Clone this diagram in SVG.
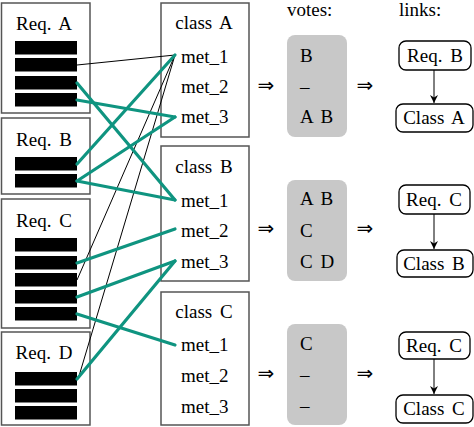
<svg xmlns="http://www.w3.org/2000/svg" width="474" height="427" viewBox="0 0 474 427" font-family="'Liberation Serif', 'Times New Roman', serif">
<style>
text{font-family:'Liberation Serif','Times New Roman',serif;font-size:19px;fill:#000;word-spacing:3px}
.box{fill:#fff;stroke:#555;stroke-width:1.5}
.bar{fill:#000}
.vote{fill:#c8c8c8;stroke:none}
.lnk{fill:#fff;stroke:#000;stroke-width:1.3}
.thin{stroke:#000;stroke-width:1;fill:none}
.teal{stroke:#0f9480;stroke-width:3.2;fill:none;stroke-linecap:round}
text.arr{font-family:'DejaVu Sans',sans-serif;font-size:20px}
.mid{text-anchor:middle}
</style>
<defs>
<marker id="ah" markerWidth="10" markerHeight="10" refX="8" refY="5" orient="auto" markerUnits="userSpaceOnUse">
<path d="M0,1 L8,5 L0,9 L2.5,5 Z" fill="#000"/>
</marker>
</defs>
<g id="reqA">
<rect class="box" x="1.5" y="3" width="88.5" height="110"/>
<text class="mid" x="44" y="30">Req. A</text>
<rect class="bar" x="15" y="41" width="62" height="13.5"/>
<rect class="bar" x="15" y="58" width="62" height="13.5"/>
<rect class="bar" x="15" y="76" width="62" height="13.5"/>
<rect class="bar" x="15" y="93" width="62" height="13.5"/>
</g>
<g id="reqB">
<rect class="box" x="1.5" y="118" width="88.5" height="76"/>
<text class="mid" x="44" y="146">Req. B</text>
<rect class="bar" x="15" y="157" width="62" height="13.5"/>
<rect class="bar" x="15" y="174" width="62" height="13.5"/>
</g>
<g id="reqC">
<rect class="box" x="1.5" y="199" width="88.5" height="129"/>
<text class="mid" x="44" y="227">Req. C</text>
<rect class="bar" x="15" y="238" width="62" height="13.5"/>
<rect class="bar" x="15" y="256" width="62" height="13.5"/>
<rect class="bar" x="15" y="273" width="62" height="13.5"/>
<rect class="bar" x="15" y="290" width="62" height="13.5"/>
<rect class="bar" x="15" y="307" width="62" height="13.5"/>
</g>
<g id="reqD">
<rect class="box" x="1.5" y="332" width="88.5" height="93"/>
<text class="mid" x="44" y="359">Req. D</text>
<rect class="bar" x="15" y="372" width="62" height="13.5"/>
<rect class="bar" x="15" y="389" width="62" height="13.5"/>
<rect class="bar" x="15" y="406" width="62" height="13.5"/>
</g>
<g id="classA">
<rect class="box" x="161" y="3" width="88" height="134"/>
<text class="mid" x="204" y="29">class A</text>
<text x="181" y="63">met_1</text>
<text x="181" y="93">met_2</text>
<text x="181" y="123">met_3</text>
</g>
<g id="classB">
<rect class="box" x="161" y="146" width="88" height="135"/>
<text class="mid" x="204" y="173">class B</text>
<text x="181" y="207">met_1</text>
<text x="181" y="237">met_2</text>
<text x="181" y="268">met_3</text>
</g>
<g id="classC">
<rect class="box" x="161" y="292" width="88" height="133"/>
<text class="mid" x="204" y="318">class C</text>
<text x="181" y="351">met_1</text>
<text x="181" y="382">met_2</text>
<text x="181" y="413">met_3</text>
</g>
<g id="headers">
<text x="287" y="16">votes:</text>
<text x="399" y="16">links:</text>
</g>
<g id="votesA">
<rect class="vote" x="287" y="35" width="60" height="102" rx="8"/>
<text x="300" y="62">B</text>
<text x="300" y="93">–</text>
<text x="300" y="123">A B</text>
</g>
<g id="votesB">
<rect class="vote" x="287" y="180" width="60" height="101" rx="8"/>
<text x="300" y="205">A B</text>
<text x="300" y="237">C</text>
<text x="300" y="268">C D</text>
</g>
<g id="votesC">
<rect class="vote" x="287" y="324" width="60" height="101" rx="8"/>
<text x="300" y="350">C</text>
<text x="300" y="381">–</text>
<text x="300" y="412">–</text>
</g>
<g id="implies">
<text class="arr mid" x="266" y="92">⇒</text>
<text class="arr mid" x="365" y="92">⇒</text>
<text class="arr mid" x="266" y="235">⇒</text>
<text class="arr mid" x="365" y="235">⇒</text>
<text class="arr mid" x="266" y="380">⇒</text>
<text class="arr mid" x="365" y="380">⇒</text>
</g>
<g id="linkA">
<rect class="lnk" x="399" y="41" width="72" height="29" rx="7"/>
<text class="mid" x="435" y="62">Req. B</text>
<rect class="lnk" x="396" y="104" width="77" height="28" rx="7"/>
<text class="mid" x="434" y="124">Class A</text>
</g>
<g id="linkB">
<rect class="lnk" x="399" y="185" width="71" height="29" rx="7"/>
<text class="mid" x="434" y="206">Req. C</text>
<rect class="lnk" x="397" y="250" width="76" height="27" rx="7"/>
<text class="mid" x="434" y="270">Class B</text>
</g>
<g id="linkC">
<rect class="lnk" x="399" y="332" width="71" height="27" rx="7"/>
<text class="mid" x="434" y="352">Req. C</text>
<rect class="lnk" x="396" y="395" width="77" height="28" rx="7"/>
<text class="mid" x="434" y="415">Class C</text>
</g>
<g id="connectors">
<line class="thin" x1="77" y1="65" x2="175" y2="55"/>
<line class="thin" x1="77" y1="280" x2="175" y2="55"/>
<line class="thin" x1="79" y1="376" x2="175" y2="55"/>
<line class="teal" x1="77" y1="83" x2="175" y2="200"/>
<line class="teal" x1="77" y1="100" x2="175" y2="117"/>
<line class="teal" x1="77" y1="164" x2="175" y2="55"/>
<line class="teal" x1="77" y1="181" x2="175" y2="117"/>
<line class="teal" x1="77" y1="181" x2="175" y2="200"/>
<line class="teal" x1="77" y1="263" x2="175" y2="229"/>
<line class="teal" x1="77" y1="297" x2="175" y2="261"/>
<line class="teal" x1="77" y1="379" x2="175" y2="261"/>
<line class="teal" x1="77" y1="314" x2="175" y2="345"/>
<line class="thin" x1="434" y1="70" x2="434" y2="103" stroke-width="1.3" marker-end="url(#ah)"/>
<line class="thin" x1="434" y1="214" x2="434" y2="249" stroke-width="1.3" marker-end="url(#ah)"/>
<line class="thin" x1="434" y1="359" x2="434" y2="394" stroke-width="1.3" marker-end="url(#ah)"/>
</g>
</svg>
